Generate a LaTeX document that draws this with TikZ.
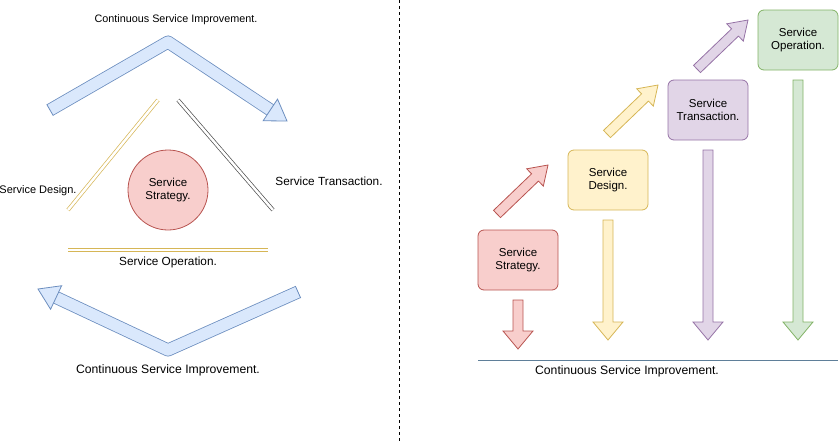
\documentclass[tikz,border=0pt]{standalone}
\usepackage{fontspec}
\setmainfont{Liberation Sans}
\usetikzlibrary{calc}
\definecolor{bS}{HTML}{6C8EBF}\definecolor{bF}{HTML}{DAE8FC}
\definecolor{rS}{HTML}{B85450}\definecolor{rF}{HTML}{F8CECC}
\definecolor{yS}{HTML}{D6B656}\definecolor{yF}{HTML}{FFF2CC}
\definecolor{pS}{HTML}{9673A6}\definecolor{pF}{HTML}{E1D5E7}
\definecolor{gS}{HTML}{82B366}\definecolor{gF}{HTML}{D5E8D4}
\definecolor{lnS}{HTML}{5F7F99}
\newcommand\blockarrow[6]{%
 \coordinate (C) at ($(#2)!#5pt!(#1)$);
 \draw[#6] ($(#1)!#3pt!90:(#2)$) -- ($(C)!#3pt!90:(#2)$) -- ($(C)!#4pt!90:(#2)$) -- (#2)
  -- ($(C)!#4pt!-90:(#2)$) -- ($(C)!#3pt!-90:(#2)$) -- ($(#1)!#3pt!-90:(#2)$) -- cycle;}
\newcommand\bentarrow[3]{% tail, apex, tip
 \coordinate (C) at ($(#3)!20pt!(#2)$);
 \draw[bS,line width=13pt,line join=round] (#1) -- (#2) -- (C);
 \draw[bF,line width=11.4pt,line join=round] (#1) -- (#2) -- (C);
 \draw[bS,line width=0.8pt] ($(#1)!6.5pt!90:(#2)$) -- ($(#1)!6.5pt!-90:(#2)$);
 \draw[bS,fill=bF,line width=0.8pt,line join=miter] (#3) -- ($(C)!13pt!90:(#3)$) -- ($(C)!13pt!-90:(#3)$) -- cycle;}
\begin{document}
\begin{tikzpicture}[x=1pt,y=-1pt,
  lbl/.style={font=\fontsize{11.8}{14}\selectfont,align=center},
  box/.style={draw=#1S,fill=#1F,rounded corners=6pt,minimum width=80pt,minimum height=60pt,line width=0.8pt,font=\fontsize{11.5}{13.5}\selectfont,align=center},
  dbl/.style={draw=#1,double=white,double distance=2.5pt,line width=0.7pt}]
\useasboundingbox (0,0) rectangle (840,442);
\draw[dashed,line width=0.7pt] (399,0) -- (399,442);
% left
\coordinate (t0) at (50,110); \coordinate (t1) at (168,42); \coordinate (t2) at (287,121);
\bentarrow{t0}{t1}{t2}
\coordinate (b0) at (298,292); \coordinate (b1) at (168,350); \coordinate (b2) at (38,289);
\bentarrow{b0}{b1}{b2}
\coordinate (d0) at (158,100); \coordinate (d1) at (68,210);
\draw[dbl=yS] (d0) -- (d1);
\coordinate (r0) at (178,100); \coordinate (r1) at (273,210);
\draw[dbl=black!70] (r0) -- (r1);
\coordinate (o0) at (68,250); \coordinate (o1) at (268,250);
\draw[dbl=yS] (o0) -- (o1);
\node[circle,draw=rS,fill=rF,minimum size=80pt,line width=0.8pt,font=\fontsize{11.5}{13.5}\selectfont,align=center] (ss) at (168,190) {Service\\Strategy.};
\node[lbl,font=\fontsize{10.8}{12}\selectfont] (ct) at (176,20) {Continuous Service Improvement.};
\node[lbl,font=\fontsize{12.2}{14}\selectfont] (cb) at (168,370) {Continuous Service Improvement.};
\node[lbl,font=\fontsize{11}{13}\selectfont] (sd) at (38,191) {Service Design.};
\node[lbl] (st) at (329,181) {Service Transaction.};
\node[lbl] (so) at (168,262) {Service Operation.};
% right
\node[box=r] (B1) at (518,260) {Service\\Strategy.};
\node[box=y] (B2) at (608,180) {Service\\Design.};
\node[box=p] (B3) at (708,110) {Service\\Transaction.};
\node[box=g] (B4) at (798,40) {Service\\Operation.};
\coordinate (a1) at (497,214); \coordinate (a1t) at (548,165);
\blockarrow{a1}{a1t}{5}{12}{18}{rS,fill=rF,line width=0.8pt}
\coordinate (a2) at (607,134); \coordinate (a2t) at (658,85);
\blockarrow{a2}{a2t}{5}{12}{18}{yS,fill=yF,line width=0.8pt}
\coordinate (a3) at (697,69); \coordinate (a3t) at (748,20);
\blockarrow{a3}{a3t}{5}{12}{18}{pS,fill=pF,line width=0.8pt}
\coordinate (v1) at (518,300); \coordinate (v1t) at (518,349);
\blockarrow{v1}{v1t}{5}{15}{18}{rS,fill=rF,line width=0.8pt}
\coordinate (v2) at (608,220); \coordinate (v2t) at (608,340);
\blockarrow{v2}{v2t}{5}{15}{18}{yS,fill=yF,line width=0.8pt}
\coordinate (v3) at (708,150); \coordinate (v3t) at (708,340);
\blockarrow{v3}{v3t}{5}{15}{18}{pS,fill=pF,line width=0.8pt}
\coordinate (v4) at (798,80); \coordinate (v4t) at (798,340);
\blockarrow{v4}{v4t}{5}{15}{18}{gS,fill=gF,line width=0.8pt}
\coordinate (h0) at (478,360); \coordinate (h1) at (838,360);
\draw[lnS,line width=0.6pt] (h0) -- (h1);
\node[lbl,font=\fontsize{12.2}{14}\selectfont] (cr) at (627,371) {Continuous Service Improvement.};
\end{tikzpicture}
\end{document}
